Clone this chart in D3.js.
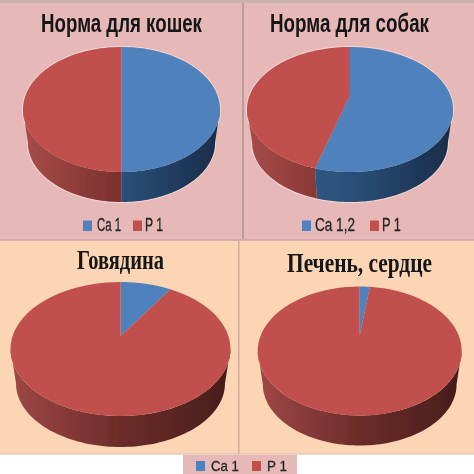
<!DOCTYPE html>
<html>
<head>
<meta charset="utf-8">
<script src="https://cdn.jsdelivr.net/npm/d3@7"></script>
<style>
  html, body { margin: 0; padding: 0; background: #fff; }
  svg { display: block; }
</style>
</head>
<body>
<svg id="chart" width="474" height="474"></svg>
<script>
// values
var titles = ["Норма для кошек", "Норма для собак", "Говядина", "Печень, сердце"];
var caShare = [50, 55.5, 7.5, 1.6];
var pShare = [50, 44.5, 92.5, 98.4];
var legendTop = [["Ca 1", "P 1"], ["Ca 1,2", "P 1"]];
var legendBottom = ["Ca 1", "P 1"];

var BLUE = "#4f81bd", RED = "#c0504d";
var SHRINK = 0.95; // lower rim is a bit smaller, the pies are drawn in perspective

var wallBlue = ["#3a6596", "#2b5079", "#182c48"];
var wallRedPink = ["#a84c4a", "#7a2f2c", "#4a1e1c"];
var wallRedPeach = ["#a04846", "#6c2c2a", "#471d1b"];

// layout of each panel
var panels = [
  { box: [0, 3, 243, 236], bg: "#e6b9b8", cx: 121.5, cy: 109.5, rx: 98.5, ry: 62.5, apexY: 100, depth: 30,
    titleX: 121.5, titleY: 32, titleW: 161, font: "sans", size: 25, wallRed: wallRedPink },
  { box: [243, 3, 231, 236], bg: "#e6b9b8", cx: 350, cy: 109.5, rx: 103, ry: 62.5, apexY: 95, depth: 30,
    titleX: 349.5, titleY: 32, titleW: 159, font: "sans", size: 25, wallRed: wallRedPink },
  { box: [0, 241, 239, 213], bg: "#fcd5b5", cx: 120.5, cy: 349, rx: 110, ry: 67, apexY: 336, depth: 31,
    titleX: 120.5, titleY: 269, titleW: 87, font: "serif", size: 27, wallRed: wallRedPeach },
  { box: [239, 241, 235, 213], bg: "#fcd5b5", cx: 359.7, cy: 351, rx: 102, ry: 64.5, apexY: 335.5, depth: 30,
    titleX: 359.5, titleY: 272, titleW: 145, font: "serif", size: 28, wallRed: wallRedPeach }
];

var fontFamily = {
  sans: "'Liberation Sans', sans-serif",
  serif: "'Liberation Serif', serif"
};

var svg = d3.select("#chart");
var defs = svg.append("defs");

// the reference is a soft, upscaled picture
defs.append("filter").attr("id", "soft")
  .append("feGaussianBlur").attr("stdDeviation", 0.45);

var g = svg.append("g").attr("filter", "url(#soft)");

g.append("rect").attr("width", 474).attr("height", 474).attr("fill", "#fff");
g.append("rect").attr("width", 474).attr("height", 3).attr("fill", "#c9b5ae");

var pie = d3.pie().sort(null);

// d3 angles: 0 at twelve o'clock, clockwise
function arcPoints(p, a0, a1, k, dy) {
  var n = 90, pts = [];
  for (var i = 0; i <= n; i++) {
    var a = a0 + (a1 - a0) * i / n;
    pts.push([p.cx + k * p.rx * Math.sin(a), p.cy + dy - k * p.ry * Math.cos(a)]);
  }
  return pts;
}

function sliceD(p, arc) {
  var pts = [[p.cx, p.apexY]].concat(arcPoints(p, arc.startAngle, arc.endAngle, 1, 0));
  return d3.line()(pts) + "Z";
}

function lowerDy(p) {
  return p.depth + p.ry * (1 - SHRINK);
}

function wallD(p, a0, a1) {
  // only the part of the rim that faces the viewer has a wall
  var lo = Math.max(a0, Math.PI / 2), hi = Math.min(a1, 3 * Math.PI / 2);
  if (hi <= lo) return null;
  var top = arcPoints(p, lo, hi, 1, 0);
  var bottom = arcPoints(p, lo, hi, SHRINK, lowerDy(p)).reverse();
  return d3.line()(top.concat(bottom)) + "Z";
}

function wallGradient(id, p, colors) {
  var lg = defs.append("linearGradient").attr("id", id)
    .attr("gradientUnits", "userSpaceOnUse")
    .attr("x1", p.cx - p.rx).attr("x2", p.cx + p.rx).attr("y1", 0).attr("y2", 0);
  colors.forEach(function(c, k) {
    lg.append("stop").attr("offset", k / 2).attr("stop-color", c);
  });
}

// the fonts of the reference are condensed: squeeze the text to its measured width
function squeezed(text, x, y, width) {
  var natural = text.node().getComputedTextLength();
  text.attr("transform", "translate(" + x + "," + y + ") scale(" + (width / natural) + ",1)");
  return text;
}

panels.forEach(function(p, i) {
  g.append("rect")
    .attr("x", p.box[0]).attr("y", p.box[1])
    .attr("width", p.box[2]).attr("height", p.box[3])
    .attr("fill", p.bg);

  wallGradient("wall" + i + "a", p, wallBlue);
  wallGradient("wall" + i + "b", p, p.wallRed);

  var arcs = pie([caShare[i], pShare[i]]);
  var colors = [BLUE, RED];

  // pale halo round the pie on the pink panels
  if (i < 2) {
    g.append("ellipse")
      .attr("cx", p.cx).attr("cy", p.cy + lowerDy(p))
      .attr("rx", p.rx * SHRINK + 0.6).attr("ry", p.ry * SHRINK + 0.6)
      .attr("fill", "none").attr("stroke", "#f2dcda").attr("stroke-width", 0.9);
    g.append("ellipse")
      .attr("cx", p.cx).attr("cy", p.cy).attr("rx", p.rx + 0.6).attr("ry", p.ry + 0.6)
      .attr("fill", "none").attr("stroke", "#f2dcda").attr("stroke-width", 0.9);
  }

  arcs.forEach(function(arc, k) {
    var d = wallD(p, arc.startAngle, arc.endAngle);
    if (d) {
      g.append("path").attr("d", d)
        .attr("fill", "url(#wall" + i + (k === 0 ? "a" : "b") + ")");
    }
  });

  g.selectAll(null).data(arcs).enter().append("path")
    .attr("d", function(d) { return sliceD(p, d); })
    .attr("fill", function(d, k) { return colors[k]; });

  var title = g.append("text")
    .attr("text-anchor", "middle")
    .attr("font-family", fontFamily[p.font])
    .attr("font-weight", "bold")
    .attr("font-size", p.size)
    .attr("fill", "#141414")
    .text(titles[i]);
  squeezed(title, p.titleX, p.titleY, p.titleW);
});

// panel borders
g.append("rect").attr("x", 0).attr("y", 239).attr("width", 474).attr("height", 2).attr("fill", "#d3aea8");
g.append("rect").attr("x", 242).attr("y", 3).attr("width", 2).attr("height", 236).attr("fill", "#bd9c9c");
g.append("rect").attr("x", 238).attr("y", 241).attr("width", 1.5).attr("height", 213).attr("fill", "#cfae96");
g.append("rect").attr("x", 0).attr("y", 453.5).attr("width", 474).attr("height", 1).attr("fill", "#dcbfa6");

function legend(items, y, size, marks, texts, h) {
  items.forEach(function(label, k) {
    g.append("rect").attr("x", marks[k]).attr("y", y - h).attr("width", 9).attr("height", h)
      .attr("fill", k === 0 ? BLUE : RED);
    var t = g.append("text")
      .attr("font-family", fontFamily.sans)
      .attr("font-size", size).attr("fill", "#262626")
      .attr("stroke", "#262626").attr("stroke-width", 0.3)
      .text(label);
    squeezed(t, texts[k][0], y, texts[k][1]);
  });
}

legend(legendTop[0], 231, 18, [83, 133], [[97, 24], [145, 18]], 10.5);
legend(legendTop[1], 231, 18, [302, 370], [[315, 40], [382, 19]], 10.5);

g.append("rect").attr("x", 183).attr("y", 454.5).attr("width", 114).attr("height", 19.5).attr("fill", "#e6b9b8");
legend(legendBottom, 471, 15.5, [196, 252], [[211, 28], [267, 20]], 10);
</script>
</body>
</html>
